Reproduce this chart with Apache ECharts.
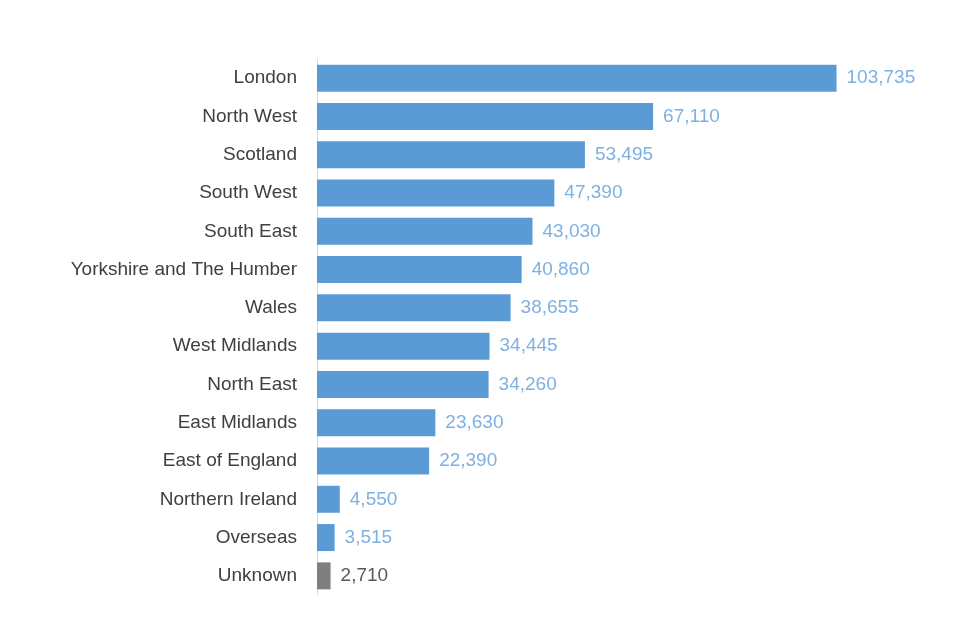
<!DOCTYPE html>
<html><head><meta charset="utf-8">
<script src="https://cdn.jsdelivr.net/npm/echarts@6/dist/echarts.min.js"></script>
<style>html,body{margin:0;background:#fff}#c{width:960px;height:640px}</style>
</head><body><div id="c"></div>
<script>
const categories = ["London","North West","Scotland","South West","South East","Yorkshire and The Humber","Wales","West Midlands","North East","East Midlands","East of England","Northern Ireland","Overseas","Unknown"];
const values = [103735,67110,53495,47390,43030,40860,38655,34445,34260,23630,22390,4550,3515,2710];
const chart = echarts.init(document.getElementById('c'));
chart.setOption({
  animation:false,
  grid:{left:317,right:42,top:59,bottom:45},
  xAxis:{type:'value',min:0,max:120000,show:false},
  yAxis:{type:'category',inverse:true,data:categories,
    axisLine:{lineStyle:{color:'#d9d9d9',width:1}},axisTick:{show:false},
    axisLabel:{color:'#404040',fontSize:19,fontFamily:'Liberation Sans, Arial',margin:20}},
  series:[{type:'bar',barWidth:27,
    data:values.map((v,i)=>({value:v,
      itemStyle:{color:categories[i]==='Unknown'?'#7f7f7f':'#5b9bd5'},
      label:{color:categories[i]==='Unknown'?'#595959':'#7eb0e3'}})),
    label:{show:true,position:'right',distance:10,fontSize:19,fontFamily:'Liberation Sans, Arial',
      formatter:p=>p.value.toLocaleString('en-US')}}]
});
</script></body></html>
